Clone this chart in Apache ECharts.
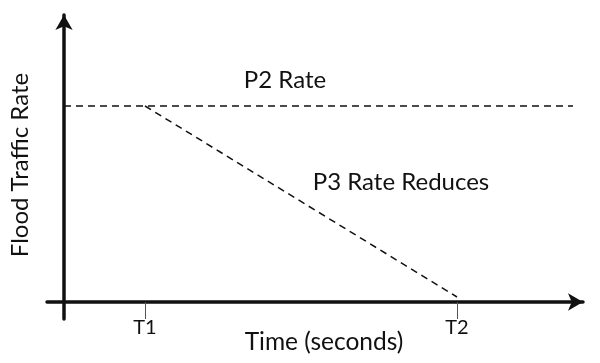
<!DOCTYPE html>
<html><head><meta charset="utf-8">
<script src="https://cdn.jsdelivr.net/npm/echarts@6/dist/echarts.min.js"></script>
<style>html,body{margin:0;padding:0;background:#fff}#c{width:600px;height:363px}</style>
</head><body><div id="c"></div>
<script>
const tickNames = ['T1', 'T2'];
const tickTimes = [8.1, 39.3];
const p2Rate = [[0, 19.6], [50.9, 19.6]];
const p3Rate = [[8.1, 19.6], [39.3, 0.5]];
const labelTexts = ['P2 Rate', 'P3 Rate Reduces'];
const xName = 'Time (seconds)';
const yName = 'Flood Traffic Rate';

const FONT = 'Lato';
const chart = echarts.init(document.getElementById('c'), null, {renderer: 'canvas'});
const axisLineStyle = {color: '#111', width: 3.5};
const txt = (text, x, y, size, rot) => ({type: 'text', x, y, rotation: rot || 0,
  style: {text, font: size + 'px Lato', fill: '#111', align: 'center', verticalAlign: 'middle'}});
chart.setOption({
  animation: false,
  backgroundColor: '#fff',
  textStyle: {fontFamily: FONT, color: '#111'},
  grid: {left: 47, right: 17, top: 15, bottom: 44, containLabel: false, outerBoundsMode: 'none'},
  xAxis: [{
    type: 'value', min: -1.7, max: 51.9,
    splitLine: {show: false},
    axisLine: {show: true, onZero: true, symbol: ['none', 'arrow'], symbolSize: [13, 15], lineStyle: axisLineStyle},
    axisTick: {show: true, customValues: tickTimes, length: 9, lineStyle: {color: '#555', width: 1}},
    axisLabel: {show: true, customValues: tickTimes, margin: -1, fontFamily: FONT, fontSize: 20, color: '#111',
      formatter: v => tickNames[tickTimes.indexOf(v)] || ''}
  }, {
    type: 'value', min: -1.7, max: 51.9, position: 'bottom',
    splitLine: {show: false},
    axisLine: {show: false, onZero: true},
    axisTick: {show: true, inside: true, customValues: tickTimes, length: 8, lineStyle: {color: '#555', width: 1}},
    axisLabel: {show: false}
  }],
  yAxis: {
    type: 'value', min: -1.7, max: 28.7,
    splitLine: {show: false},
    axisLine: {show: true, onZero: true, symbol: ['none', 'arrow'], symbolSize: [13, 15], lineStyle: axisLineStyle},
    axisTick: {show: false},
    axisLabel: {show: false}
  },
  graphic: [
    txt(labelTexts[0], 285, 80, 24),
    txt(labelTexts[1], 401, 182, 24),
    txt(xName, 324, 342, 24.5),
    txt(yName, 20, 165, 24, Math.PI / 2)
  ],
  series: [
    {type: 'line', data: p2Rate, showSymbol: false, silent: true, lineStyle: {color: '#111', width: 1.5, type: [7, 5]}},
    {type: 'line', data: p3Rate, showSymbol: false, silent: true, lineStyle: {color: '#111', width: 1.5, type: [7, 5]}}
  ]
});
</script></body></html>
